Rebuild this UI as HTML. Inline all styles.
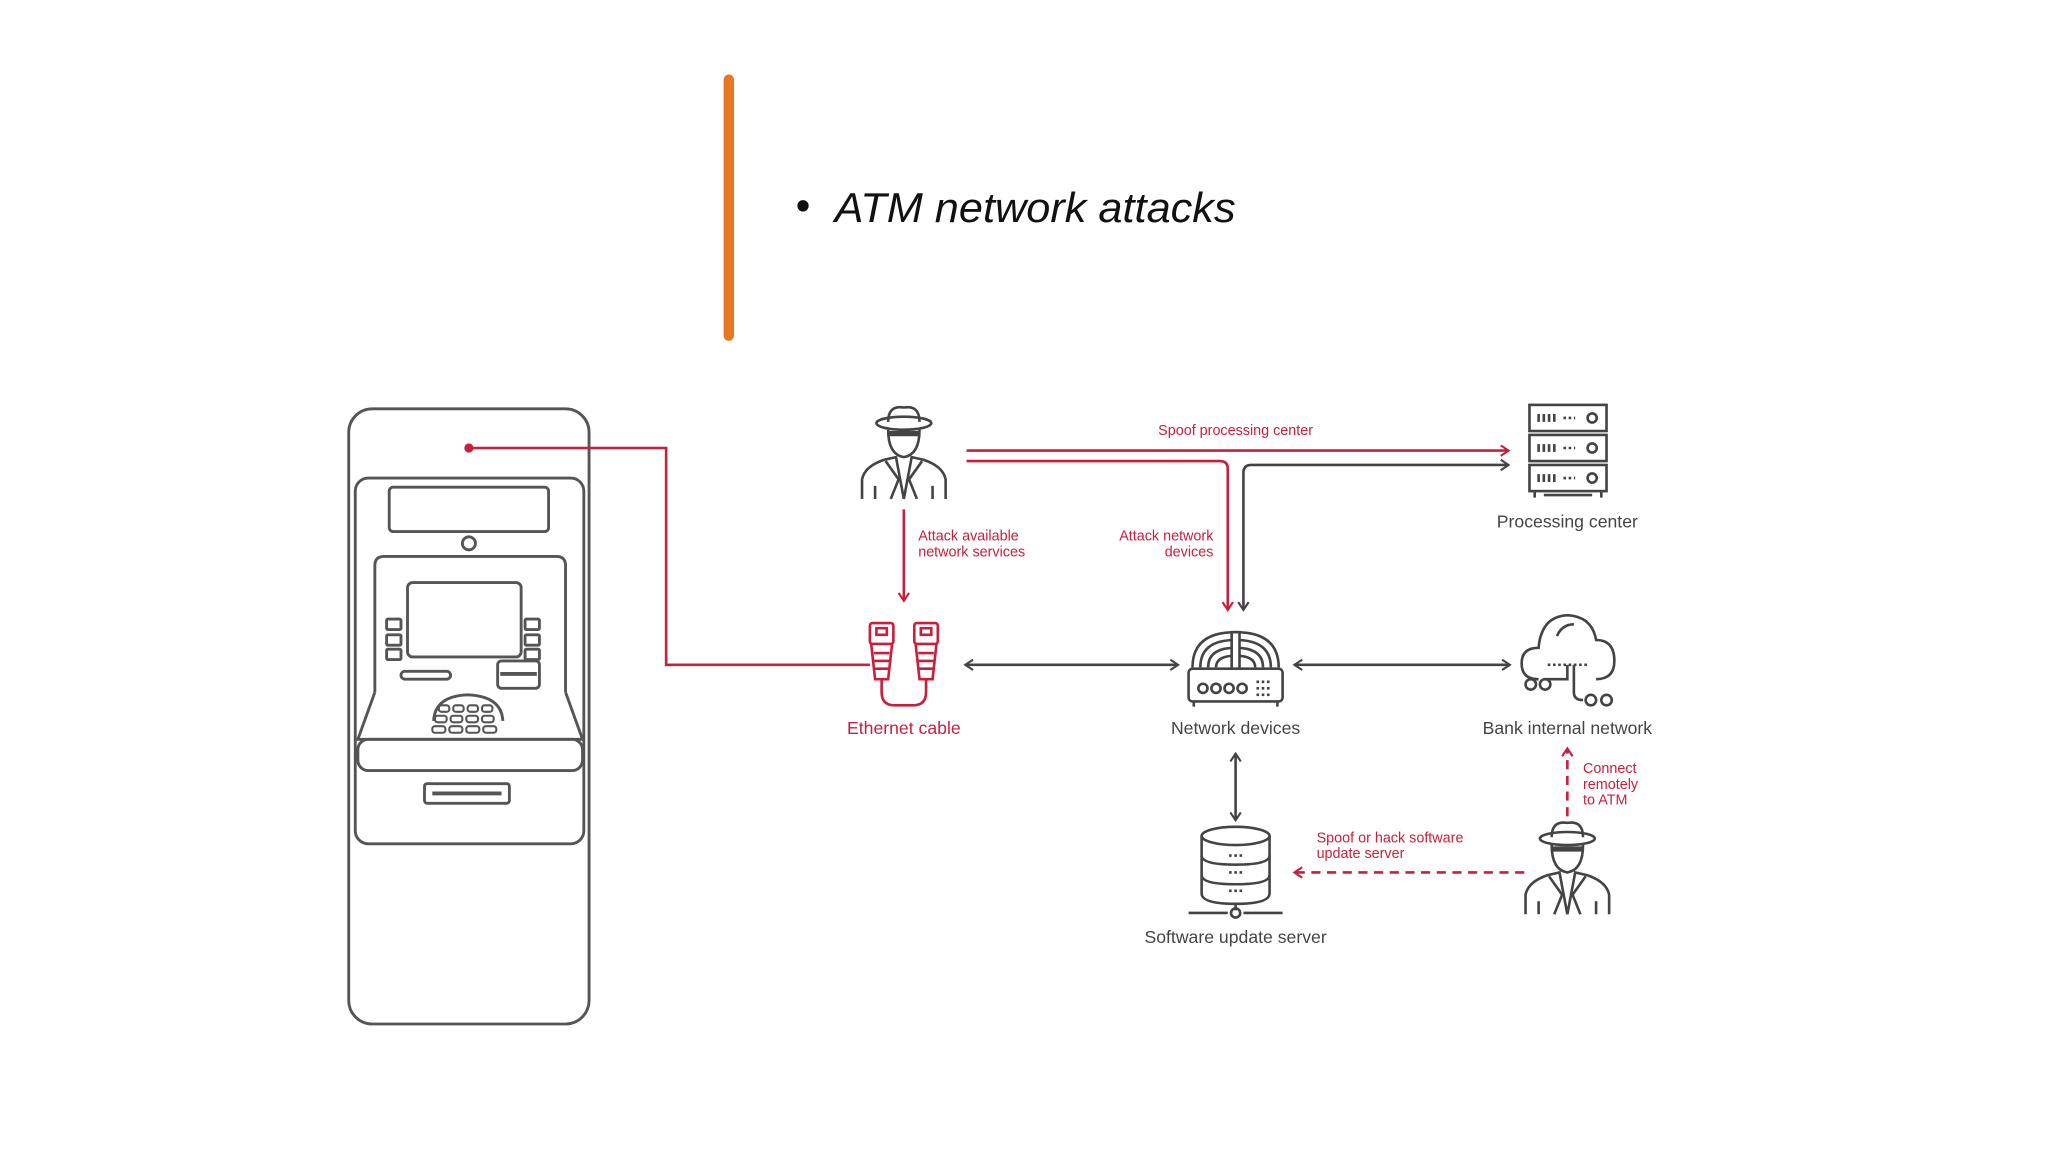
<!DOCTYPE html>
<html><head><meta charset="utf-8"><style>
html,body{margin:0;padding:0;background:#fff;}
svg{display:block;}
text{font-family:"Liberation Sans",sans-serif;}
</style></head><body>
<svg width="2048" height="1152" viewBox="0 0 1568 882" xmlns="http://www.w3.org/2000/svg">
<defs>
<marker id="ar" markerWidth="10" markerHeight="10" refX="7" refY="5" orient="auto-start-reverse" markerUnits="userSpaceOnUse"><path d="M1,1 L7,5 L1,9" fill="none" stroke="#c8203c" stroke-width="1.6"/></marker>
<marker id="ag" markerWidth="10" markerHeight="10" refX="7" refY="5" orient="auto-start-reverse" markerUnits="userSpaceOnUse"><path d="M1,1 L7,5 L1,9" fill="none" stroke="#444" stroke-width="1.6"/></marker>
<g id="hacker" fill="none" stroke="#444" stroke-width="2">
<ellipse cx="0" cy="12" rx="21" ry="5"/>
<path d="M-12,11 Q-12,-2 0,0 Q12,-2 12,11"/>
<path d="M-12,17 Q-12,36 0,38 Q12,36 12,17"/>
<path d="M-12,20 h24" stroke-width="4"/>
<path d="M-32,70 V55 Q-30,45 -15,40 L-6,38 L0,70 M32,70 V55 Q30,45 15,40 L6,38 L0,70"/>
<path d="M-14,41 L-4,55 L-10,70 M14,41 L4,55 L10,70 M-22,60 V70 M22,60 V70"/>
</g>
</defs>

<!-- title -->
<rect x="554" y="57" width="8" height="204" rx="4" fill="#e87722"/>
<text x="609" y="168" font-size="32" font-style="italic" fill="#111">•</text>
<text x="639" y="170" font-size="32" font-style="italic" fill="#111" textLength="307" lengthAdjust="spacingAndGlyphs">ATM network attacks</text>

<!-- ATM -->
<g fill="none" stroke="#555" stroke-width="2.2">
<rect x="267" y="313" width="184" height="471" rx="18"/>
<rect x="272" y="366" width="175" height="280" rx="10"/>
<rect x="298" y="373" width="122" height="34" rx="3"/>
<circle cx="359" cy="416" r="5"/>
<path d="M287,530 V433 Q287,426 294,426 H426 Q433,426 433,433 V530"/>
<rect x="312" y="446" width="87" height="57" rx="4"/>
<rect x="296" y="474" width="11" height="8" rx="1"/><rect x="296" y="486" width="11" height="8" rx="1"/><rect x="296" y="497" width="11" height="8" rx="1"/>
<rect x="402" y="474" width="11" height="8" rx="1"/><rect x="402" y="486" width="11" height="8" rx="1"/><rect x="402" y="497" width="11" height="8" rx="1"/>
<rect x="307" y="514" width="38" height="6" rx="3"/>
<rect x="381" y="506" width="32" height="21" rx="3"/><path d="M383,516 h28" stroke-width="3"/>
<path d="M287,530 L274,566 H446 L433,530"/>
<rect x="274" y="566" width="172" height="24" rx="8"/>
<path d="M332,552 Q333,533 358,532 Q384,533 385,552"/>
<g stroke-width="1.6">
<rect x="336" y="540" width="8" height="5" rx="2"/><rect x="347" y="540" width="8" height="5" rx="2"/><rect x="358" y="540" width="8" height="5" rx="2"/><rect x="369" y="540" width="8" height="5" rx="2"/>
<rect x="333" y="548" width="9" height="5" rx="2"/><rect x="345" y="548" width="9" height="5" rx="2"/><rect x="357" y="548" width="9" height="5" rx="2"/><rect x="369" y="548" width="9" height="5" rx="2"/>
<rect x="331" y="556" width="10" height="5" rx="2"/><rect x="344" y="556" width="10" height="5" rx="2"/><rect x="357" y="556" width="10" height="5" rx="2"/><rect x="370" y="556" width="10" height="5" rx="2"/>
</g>
<rect x="325" y="600" width="65" height="15" rx="2"/><path d="M331,607.5 h53" stroke-width="3"/>
</g>

<!-- red ATM link -->
<circle cx="359" cy="343" r="3.5" fill="#c8203c"/>
<path d="M359,343 H510 V509 H666" fill="none" stroke="#c8203c" stroke-width="2"/>

<!-- hackers -->
<use href="#hacker" x="692" y="312"/>
<use href="#hacker" x="1200" y="630"/>

<!-- ethernet cable -->
<g fill="none" stroke="#c8203c" stroke-width="2">
<rect x="666" y="477" width="18" height="16" rx="2"/><rect x="700" y="477" width="18" height="16" rx="2"/>
<path d="M667,493 L670,520 H680 L683,493 M701,493 L704,520 H714 L717,493"/>
<path d="M669,500 h12 M669,506 h12 M670,512 h10 M703,500 h12 M703,506 h12 M704,512 h10"/>
<path d="M675,520 V530 Q675,540 685,540 H699 Q709,540 709,530 V520"/>
<path d="M671,481 h8 v5 h-8z M705,481 h8 v5 h-8z"/>
</g>
<text x="692" y="562" font-size="13.5" fill="#c8203c" text-anchor="middle">Ethernet cable</text>

<!-- network device -->
<g fill="none" stroke="#444" stroke-width="2">
<path d="M913,511 Q913,484 946,484 Q979,484 979,511"/>
<path d="M919,511 Q919,490 946,490 Q973,490 973,511"/>
<path d="M925,511 Q925,496 946,496 Q967,496 967,511"/>
<path d="M931,511 Q931,502 946,502 Q961,502 961,511"/>
<rect x="943" y="484" width="6" height="28" fill="#fff"/>
<rect x="910" y="512" width="72" height="25" rx="3"/>
<circle cx="921" cy="527" r="3.5"/><circle cx="931" cy="527" r="3.5"/><circle cx="941" cy="527" r="3.5"/><circle cx="951" cy="527" r="3.5"/>
<path d="M962,522 h12 M962,527 h12 M962,532 h12" stroke-dasharray="2 2"/>
<path d="M914,537 v4 M978,537 v4"/>
</g>
<text x="946" y="562" font-size="13.5" fill="#444" text-anchor="middle">Network devices</text>

<!-- cloud -->
<g fill="none" stroke="#444" stroke-width="2">
<path d="M1178,520 Q1165,520 1165,508 Q1165,496 1178,496 Q1180,472 1200,471 Q1219,472 1222,490 Q1236,490 1236,506 Q1236,520 1222,520"/>
<path d="M1192,487 Q1196,478 1205,478"/>
<path d="M1185,509 h30" stroke-dasharray="2 2"/>
<path d="M1200,509 V520 H1183 M1205,509 V530 Q1205,536 1212,536"/>
<circle cx="1172" cy="524" r="4"/><circle cx="1183" cy="524" r="4"/>
<circle cx="1218" cy="536" r="4"/><circle cx="1230" cy="536" r="4"/>
</g>
<text x="1200" y="562" font-size="13.5" fill="#444" text-anchor="middle">Bank internal network</text>

<!-- processing center -->
<g fill="none" stroke="#444" stroke-width="2">
<rect x="1171" y="310" width="59" height="20"/><rect x="1171" y="333" width="59" height="20"/><rect x="1171" y="356" width="59" height="20"/>
<path d="M1177,320 h16 M1177,343 h16 M1177,366 h16" stroke-dasharray="2 2" stroke-width="6"/>
<path d="M1197,320 h9 M1197,343 h9 M1197,366 h9" stroke-dasharray="2 2"/>
<circle cx="1219" cy="320" r="3.5"/><circle cx="1219" cy="343" r="3.5"/><circle cx="1219" cy="366" r="3.5"/>
<path d="M1175,376 v5 M1226,376 v5 M1182,379 h37"/>
</g>
<text x="1200" y="404" font-size="13.5" fill="#444" text-anchor="middle">Processing center</text>

<!-- software update server -->
<g fill="none" stroke="#444" stroke-width="2">
<ellipse cx="946" cy="640" rx="26" ry="7"/>
<path d="M920,640 V684 Q920,692 946,692 Q972,692 972,684 V640"/>
<path d="M920,655 Q920,662 946,662 Q972,662 972,655 M920,670 Q920,677 946,677 Q972,677 972,670"/>
<path d="M941,655 h10 M941,668 h10 M941,682 h10" stroke-dasharray="2 2"/>
<path d="M946,692 V697 M910,699 H940 M952,699 H982"/><circle cx="946" cy="699" r="3.5"/>
</g>
<text x="946" y="722" font-size="13.5" fill="#444" text-anchor="middle">Software update server</text>

<!-- connectors -->
<g fill="none" stroke-width="2">
<path d="M740,345 H1155" stroke="#c8203c" marker-end="url(#ar)"/>
<path d="M740,353 H934 Q940,353 940,359 V467" stroke="#c8203c" marker-end="url(#ar)"/>
<path d="M1155,356 H958 Q952,356 952,362 V467" stroke="#444" marker-start="url(#ag)" marker-end="url(#ag)"/>
<path d="M692,390 V460" stroke="#c8203c" marker-end="url(#ar)"/>
<path d="M739,509 H902" stroke="#444" marker-start="url(#ag)" marker-end="url(#ag)"/>
<path d="M991,509 H1156" stroke="#444" marker-start="url(#ag)" marker-end="url(#ag)"/>
<path d="M946,577 V628" stroke="#444" marker-start="url(#ag)" marker-end="url(#ag)"/>
<path d="M1167,668 H991" stroke="#c8203c" stroke-dasharray="7 5" marker-end="url(#ar)"/>
<path d="M1200,625 V573" stroke="#c8203c" stroke-dasharray="7 5" marker-end="url(#ar)"/>
</g>

<!-- labels -->
<g font-size="11" fill="#c8203c">
<text x="946" y="333" text-anchor="middle">Spoof processing center</text>
<text x="703" y="414">Attack available</text>
<text x="703" y="426">network services</text>
<text x="929" y="414" text-anchor="end">Attack network</text>
<text x="929" y="426" text-anchor="end">devices</text>
<text x="1212" y="592">Connect</text>
<text x="1212" y="604">remotely</text>
<text x="1212" y="616">to ATM</text>
<text x="1008" y="645">Spoof or hack software</text>
<text x="1008" y="657">update server</text>
</g>
</svg>
</body></html>
